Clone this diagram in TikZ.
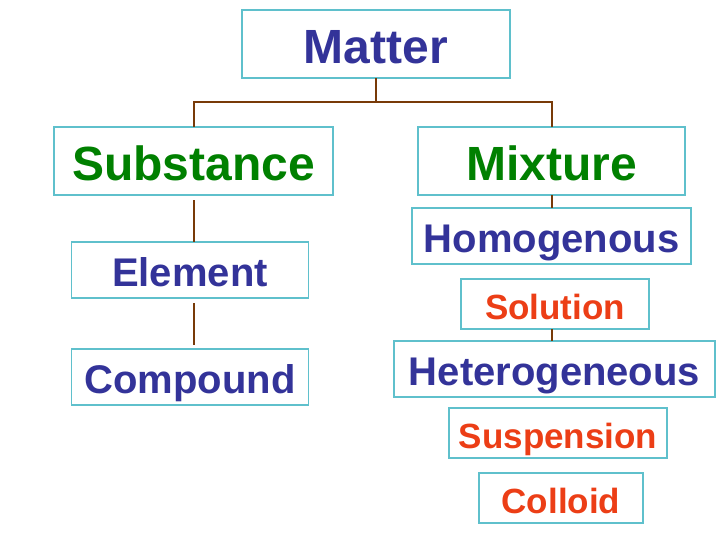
\documentclass[tikz,border=0pt]{standalone}
\usepackage{fontspec}
\setmainfont{Liberation Sans}
\usetikzlibrary{positioning}
\definecolor{edgecyan}{RGB}{95,192,204}
\definecolor{textblue}{RGB}{51,51,153}
\definecolor{textgreen}{RGB}{0,128,0}
\definecolor{textred}{RGB}{236,62,22}
\definecolor{linkbrown}{RGB}{120,58,8}
\tikzstyle{Box} = [rectangle, draw=edgecyan, line width=1.1pt, inner sep=0pt, outer sep=0pt,
                   text depth=0pt]
\tikzstyle{Root} = [Box, minimum height=68pt, text=textblue, text height=38pt,
                    font=\bfseries\fontsize{48}{52}\selectfont]
\tikzstyle{Kind} = [Box, minimum height=68pt, text=textgreen, text height=38pt,
                    font=\bfseries\fontsize{48}{52}\selectfont]
\tikzstyle{Class} = [Box, minimum height=56pt, text=textblue, text height=32pt,
                     font=\bfseries\fontsize{40}{44}\selectfont]
\tikzstyle{Example} = [Box, minimum height=50pt, text=textred, text height=30pt,
                       font=\bfseries\fontsize{35}{38}\selectfont]
\tikzstyle{Link} = [draw=linkbrown, line width=2pt]

\begin{document}
\begin{tikzpicture}
    [node distance = 12pt]

    \fill[white] (0,0) rectangle (728pt,-546pt);
    \useasboundingbox (0,0) rectangle (728pt,-546pt);

    %% Top
    \node [Root, minimum width=268pt] (matter) at (376pt,-44pt) {Matter};
    \node [Kind, minimum width=279pt, below=49pt of matter, xshift=-182.5pt] (substance) {Substance};
    \node [Kind, minimum width=267pt, below=49pt of matter, xshift=175.5pt] (mixture) {Mixture};

    %% Substance
    \node [Class, minimum width=237pt, below=47pt of substance, xshift=-3.5pt] (element) {Element};
    \node [Class, minimum width=237pt, below=51pt of element] (compound) {Compound};

    %% Mixture
    \node [Class, minimum width=279pt, below=13pt of mixture] (homogenous) {Homogenous};
    \node [Example, minimum width=188pt, below=15pt of homogenous, xshift=3.5pt] (solution) {Solution};
    \node [Class, minimum width=321pt, below=12pt of solution, xshift=-0.5pt] (heterogeneous) {Heterogeneous};
    \node [Example, minimum width=218pt, below=11pt of heterogeneous, xshift=3.5pt] (suspension) {Suspension};
    \node [Example, minimum width=164pt, below=15pt of suspension, xshift=3pt] (colloid) {Colloid};

    %% Draw
    \draw [Link] (matter.south) -- ++(0,-24pt) coordinate (split);
    \draw [Link] (split) -| (substance.north);
    \draw [Link] (split) -| (mixture.north);
    \draw [Link, shorten <=5pt] (substance.south) -- (substance.south |- element.north);
    \draw [Link, shorten <=5pt, shorten >=4pt] (substance.south |- element.south) -- (substance.south |- compound.north);
    \draw [Link] (mixture.south) -- (mixture.south |- homogenous.north);
    \draw [Link] (mixture.south |- solution.south) -- (mixture.south |- heterogeneous.north);

\end{tikzpicture}
\end{document}
